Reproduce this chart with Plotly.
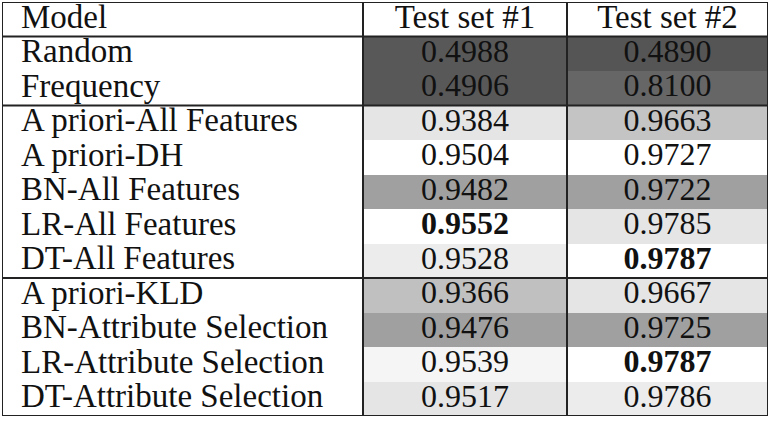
import plotly.graph_objects as go

models = ['Random', 'Frequency', 'A priori-All Features', 'A priori-DH', 'BN-All Features',
          'LR-All Features', 'DT-All Features', 'A priori-KLD', 'BN-Attribute Selection',
          'LR-Attribute Selection', 'DT-Attribute Selection']
headers = ['Model', 'Test set #1', 'Test set #2']
test1 = ['0.4988', '0.4906', '0.9384', '0.9504', '0.9482', '0.9552', '0.9528',
         '0.9366', '0.9476', '0.9539', '0.9517']
test2 = ['0.4890', '0.8100', '0.9663', '0.9727', '0.9722', '0.9785', '0.9787',
         '0.9667', '0.9725', '0.9787', '0.9786']
# gray level of each cell background (0 = black, 255 = white)
shade1 = [88, 88, 229, 255, 160, 255, 236, 192, 160, 245, 229]
shade2 = [85, 102, 196, 255, 160, 229, 255, 229, 160, 255, 236]
# best values printed in bold
bold1 = [False, False, False, False, False, True, False, False, False, False, False]
bold2 = [False, False, False, False, False, False, True, False, False, True, False]
group_ends = [2, 7]  # rule after these data rows

# table geometry (plot units = pixels)
edges = [0, 361, 565, 766]
n_rows = len(models) + 1
rows = list(range(1, n_rows))

name_font = dict(family='Liberation Serif', size=33, color='#111')
num_font = dict(family='Liberation Serif', size=32, color='#111')


def fmt(vals, bold):
    return [f'<b>{v}</b>' if b else v for v, b in zip(vals, bold)]


fig = go.Figure()

fig.add_trace(go.Heatmap(
    x=edges[1:], y=rows,
    z=[[a, b] for a, b in zip(shade1, shade2)],
    colorscale=[[0, '#000'], [1, '#fff']], zmin=0, zmax=255,
    showscale=False, hoverinfo='skip'
))

c1 = (edges[1] + edges[2]) / 2
c2 = (edges[2] + edges[3]) / 2

fig.add_trace(go.Scatter(
    x=[19] * n_rows, y=[0] + rows, mode='text',
    text=[headers[0]] + models, textposition='middle right',
    textfont=name_font, hoverinfo='skip', cliponaxis=False
))
fig.add_trace(go.Scatter(
    x=[c1, c2], y=[0, 0], mode='text',
    text=headers[1:], textposition='middle center',
    textfont=name_font, hoverinfo='skip', cliponaxis=False
))
fig.add_trace(go.Scatter(
    x=[c1] * len(test1), y=rows, mode='text',
    text=fmt(test1, bold1), textposition='middle center',
    textfont=num_font, hoverinfo='skip', cliponaxis=False
))
fig.add_trace(go.Scatter(
    x=[c2] * len(test2), y=rows, mode='text',
    text=fmt(test2, bold2), textposition='middle center',
    textfont=num_font, hoverinfo='skip', cliponaxis=False
))

line = dict(color='#222', width=2)
top, bottom = -0.5, n_rows - 0.5
shapes = [dict(type='rect', xref='x', yref='y', x0=edges[0], x1=edges[-1], y0=top, y1=bottom, line=line)]
for xe in edges[1:-1]:
    shapes.append(dict(type='line', xref='x', yref='y', x0=xe, x1=xe, y0=top, y1=bottom, line=line))
for ye in [0.5] + [g + 0.5 for g in group_ends]:
    shapes.append(dict(type='line', xref='x', yref='y', x0=edges[0], x1=edges[-1], y0=ye, y1=ye, line=line))

fig.update_layout(
    width=772, height=422,
    margin=dict(l=2, r=4, t=2, b=6),
    plot_bgcolor='#fff', paper_bgcolor='#fff',
    showlegend=False, shapes=shapes,
    xaxis=dict(range=[edges[0], edges[-1]], visible=False, fixedrange=True),
    yaxis=dict(range=[bottom, top], visible=False, fixedrange=True),
)

# drop the page's default body margin so the figure sits at the window corner
fig.write_html('out.html', config={'displayModeBar': False},
               post_script="document.body.style.margin='0';")
